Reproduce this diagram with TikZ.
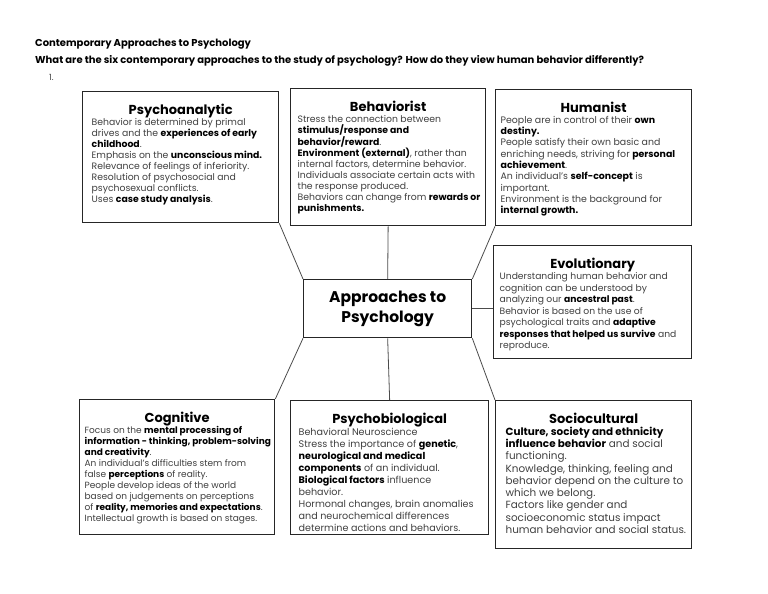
\documentclass[tikz,border=0pt]{standalone}
\usepackage{fontspec}
\setmainfont{Poppins}
\usepackage{xcolor}
\definecolor{bodygray}{gray}{0.25}
\newcommand\B[1]{\textbf{\color{black}#1}}
\newcommand\boxtitle[1]{{\centering\fontsize{13}{16}\selectfont\bfseries\color{black}#1\par}}
% width, height, fontsize, baselineskip, left indent, content
\newcommand\boxbody[6]{\parbox[c][#2pt][t]{#1pt}{\vspace*{8pt}\fontsize{#3}{#4}\selectfont\raggedright\leftskip=#5pt\color{bodygray}#6}}
\tikzset{
  topic/.style={draw=black!85, line width=1.3pt, inner xsep=5pt, inner ysep=4pt, anchor=north west},
  link/.style={draw=black!70, line width=0.8pt},
}
\begin{document}
\begin{tikzpicture}[x=1pt,y=-1pt]
\useasboundingbox (0,0) rectangle (768,594);
\fill[white] (0,0) rectangle (768,594);

\node[anchor=west, inner xsep=0pt, font=\fontsize{10}{12}\selectfont\bfseries] (h1) at (35,44) {Contemporary Approaches to Psychology};
\node[anchor=west, inner xsep=0pt, font=\fontsize{10}{12}\selectfont\bfseries] (h2) at (35,61) {What are the six contemporary approaches to the study of psychology? How do they view human behavior differently?};
\node[anchor=west, inner xsep=0pt, font=\fontsize{8.5}{10}\selectfont, text=bodygray] (h3) at (49,77) {1.};

\node[topic] (psa) at (82,91) {\boxbody{186}{123}{9.3}{11}{4}{%
\boxtitle{Psychoanalytic}
Behavior is determined by primal\\
drives and the \B{experiences of early}\\
\B{childhood}.\\
Emphasis on the \B{unconscious mind.}\\
Relevance of feelings of inferiority.\\
Resolution of psychosocial and\\
psychosexual conflicts.\\
Uses \B{case study analysis}.}};

\node[topic] (beh) at (290,88) {\boxbody{185}{129}{9.3}{11}{2}{%
\boxtitle{Behaviorist}
Stress the connection between\\
\B{stimulus/response and}\\
\B{behavior/reward}.\\
\B{Environment (external)}, rather than\\
internal factors, determine behavior.\\
\mbox{Individuals associate certain acts with}\\
the response produced.\\
\mbox{Behaviors can change from \B{rewards or}}\\
\B{punishments.}}};

\node[topic] (hum) at (495,89) {\boxbody{186}{128}{9.4}{11.3}{0}{%
\boxtitle{Humanist}
People are in control of their \B{own}\\
\B{destiny.}\\
People satisfy their own basic and\\
\mbox{enriching needs, striving for \B{personal}}\\
\B{achievement}.\\
An individual's \B{self-concept} is\\
important.\\
Environment is the background for\\
\B{internal growth.}}};

\node[topic] (evo) at (493,245) {\boxbody{188}{105}{9.2}{11.5}{1}{%
\boxtitle{Evolutionary}
Understanding human behavior and\\
cognition can be understood by\\
analyzing our \B{ancestral past}.\\
Behavior is based on the use of\\
psychological traits and \B{adaptive}\\
\mbox{\B{responses that helped us survive} and}\\
reproduce.}};

\node[draw=black!85, line width=1.3pt, minimum width=168pt, minimum height=58pt, anchor=north west, align=center,
  font=\fontsize{15.5}{20.5}\selectfont\bfseries] (ctr) at (303,279) {Approaches to\\Psychology};

\node[topic] (cog) at (79,399) {\boxbody{185}{127}{9.0}{11}{0}{%
\boxtitle{Cognitive}
Focus on the \B{mental processing of}\\
\mbox{\B{information - thinking, problem-solving}}\\
\B{and creativity}.\\
An individual's difficulties stem from\\
false \B{perceptions} of reality.\\
People develop ideas of the world\\
based on judgements on perceptions\\
\mbox{of \B{reality, memories and expectations}.}\\
Intellectual growth is based on stages.}};

\node[topic] (bio) at (290,400) {\boxbody{188}{126}{9.6}{12}{3}{%
\boxtitle{Psychobiological}
Behavioral Neuroscience\\
Stress the importance of \B{genetic},\\
\B{neurological and medical}\\
\B{components} of an individual.\\
\B{Biological factors} influence\\
behavior.\\
Hormonal changes, brain anomalies\\
and neurochemical differences\\
determine actions and behaviors.}};

\node[topic] (soc) at (495,400) {\boxbody{186}{140}{10.4}{12.25}{5}{%
\boxtitle{Sociocultural}
\B{Culture, society and ethnicity}\\
\B{influence behavior} and social\\
functioning.\\
Knowledge, thinking, feeling and\\
behavior depend on the culture to\\
which we belong.\\
Factors like gender and\\
socioeconomic status impact\\
human behavior and social status.}};

\draw[link] (psa.south east) -- (ctr.north west);
\draw[link] (beh.south) -- (ctr.north);
\draw[link] (hum.south west) -- (ctr.north east);
\draw[link] (ctr.east) -- (ctr.east -| evo.west);
\draw[link] (ctr.south west) -- (cog.north east);
\draw[link] (ctr.south) -- (bio.north);
\draw[link] (ctr.south east) -- (soc.north west);
\end{tikzpicture}
\end{document}
